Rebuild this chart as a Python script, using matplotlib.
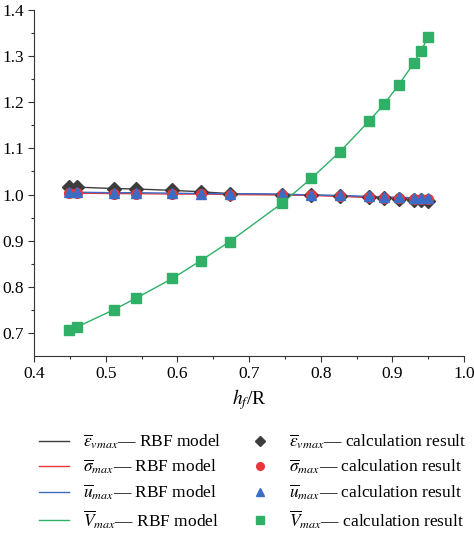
import matplotlib
matplotlib.use("Agg")
import matplotlib.pyplot as plt
from matplotlib.lines import Line2D

plt.rcParams['font.family'] = ['Liberation Serif', 'DejaVu Serif']
plt.rcParams['mathtext.fontset'] = 'stix'

# data
x = [0.449, 0.460, 0.511, 0.542, 0.593, 0.633, 0.673, 0.746, 0.787, 0.827,
     0.868, 0.889, 0.909, 0.930, 0.940, 0.950]
eps_v = [1.017, 1.016, 1.013, 1.012, 1.009, 1.006, 1.002, 1.000, 0.999, 0.997,
         0.994, 0.993, 0.991, 0.989, 0.988, 0.986]
sigma = [1.003, 1.003, 1.002, 1.002, 1.001, 1.001, 1.000, 0.999, 0.998, 0.996,
         0.994, 0.993, 0.992, 0.991, 0.990, 0.990]
u = [1.005, 1.005, 1.004, 1.004, 1.003, 1.002, 1.002, 1.001, 0.999, 0.998,
     0.996, 0.995, 0.994, 0.993, 0.993, 0.993]
V = [0.707, 0.713, 0.750, 0.775, 0.818, 0.857, 0.898, 0.981, 1.035, 1.093,
     1.160, 1.197, 1.238, 1.285, 1.312, 1.341]

xticks = [0.4, 0.5, 0.6, 0.7, 0.8, 0.9, 1.0]
yticks = [0.7, 0.8, 0.9, 1.0, 1.1, 1.2, 1.3, 1.4]

labels = [r"$\overline{\varepsilon}_{vmax}$", r"$\overline{\sigma}_{max}$",
          r"$\overline{u}_{max}$", r"$\overline{V}_{max}$"]

c_black = '#3d3d3d'
c_red = '#e8363a'
c_blue = '#3b6cc6'
c_green = '#2fb066'

fig = plt.figure(figsize=(4.74, 5.58), dpi=100)
ax = fig.add_axes([34/474, 1-356/558, 430/474, 346/558])

series = [(eps_v, c_black, 'D', 7), (sigma, c_red, 'o', 7),
          (u, c_blue, '^', 7.5), (V, c_green, 's', 6.5)]
for ys, c, m, ms in series:
    ax.plot(x, ys, color=c, lw=1.0, zorder=2)
for ys, c, m, ms in series:
    ax.plot(x, ys, linestyle='none', marker=m, color=c, ms=ms, zorder=3)

ax.set_xlim(0.4, 1.0)
ax.set_ylim(0.65, 1.4)
ax.set_xticks(xticks)
ax.set_yticks(yticks)
ax.set_xticklabels([f"{t:.1f}" for t in xticks], fontsize=12.5)
ax.set_yticklabels([f"{t:.1f}" for t in yticks], fontsize=12.5)
ax.set_xticks([0.45, 0.55, 0.65, 0.75, 0.85, 0.95], minor=True)
ax.set_yticks([0.75, 0.85, 0.95, 1.05, 1.15, 1.25, 1.35], minor=True)
ax.tick_params(which='both', direction='out', color='#333333', width=0.8)
ax.tick_params(which='major', length=4, pad=3)
ax.tick_params(which='minor', length=2.5)
for s in ['top', 'right']:
    ax.spines[s].set_visible(False)
for s in ['left', 'bottom']:
    ax.spines[s].set_color('#333333')
    ax.spines[s].set_linewidth(0.8)
ax.set_xlabel(r"$h_f$/R", fontsize=14, labelpad=4)

handles = []
texts = []
for (ys, c, m, ms), lab in zip(series, labels):
    handles.append(Line2D([], [], color=c, lw=1.0))
    texts.append(lab + "— RBF model")
for (ys, c, m, ms), lab in zip(series, labels):
    handles.append(Line2D([], [], color=c, marker=m, linestyle='none', ms=5.5))
    texts.append(lab + "— calculation result")

fig.legend(handles, texts, ncol=2, loc='upper left', bbox_to_anchor=(0.065, 0.24),
           frameon=False, fontsize=12.5, handlelength=1.7, handletextpad=0.8,
           columnspacing=1.4, labelspacing=0.35, borderpad=0)

fig.savefig('out.png', dpi=100)
